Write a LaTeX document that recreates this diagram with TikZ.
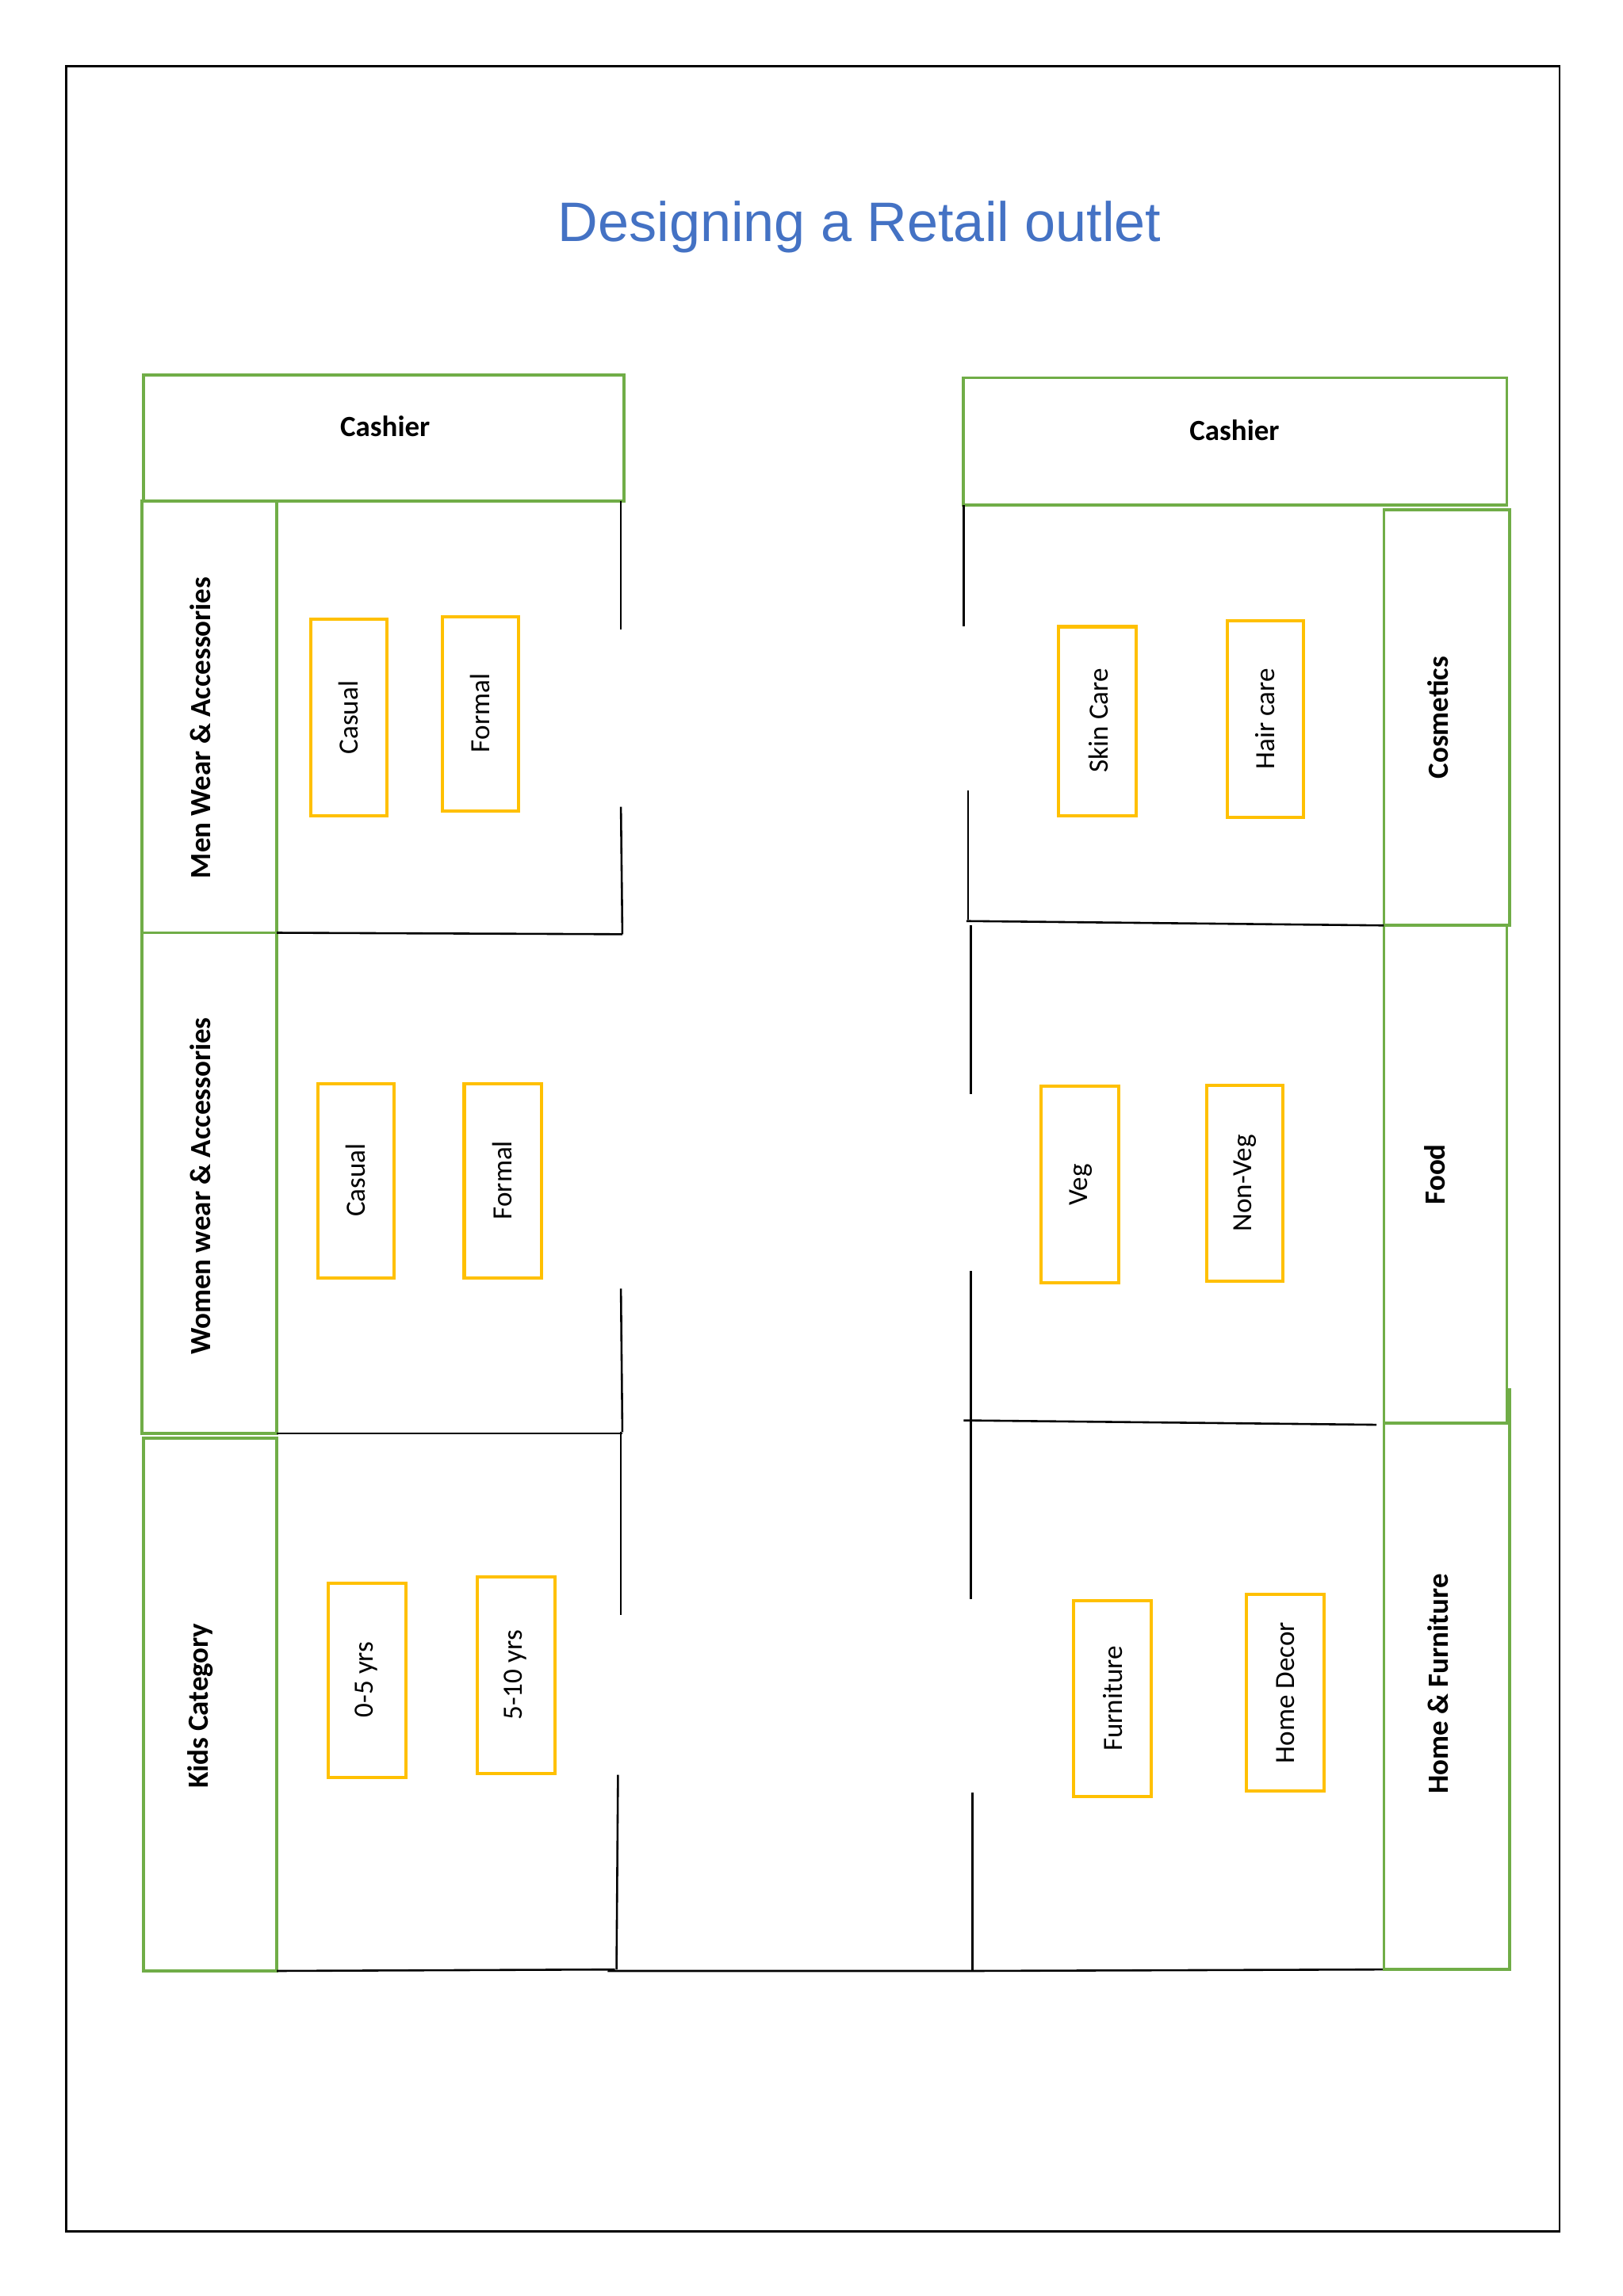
\documentclass[tikz,border=0pt]{standalone}
\usepackage{fontspec}
\setmainfont{Carlito}
\newfontfamily\titlefont{Liberation Sans}
\definecolor{grn}{RGB}{112,173,71}
\definecolor{ylw}{RGB}{255,192,0}
\definecolor{ttl}{RGB}{68,114,196}
\begin{document}
\begin{tikzpicture}[x=0.5pt,y=-0.5pt,
  gbox/.style={draw=grn,line width=1pt},
  ybox/.style={draw=ylw,line width=1.1pt},
  wall/.style={draw=black,line width=0.7pt},
  lbl/.style={font=\fontsize{10}{12}\selectfont\bfseries,rotate=90},
  item/.style={font=\fontsize{9.5}{11}\selectfont,rotate=90}]
\useasboundingbox (0,0) rectangle (1108,1568);
\draw[line width=0.8pt] (45,45) rectangle (1065,1524);
\node[font=\titlefont\fontsize{19}{22}\selectfont,text=ttl] (title) at (587,155) {Designing a Retail outlet};
% left side
\draw[gbox] (98,256) rectangle (426,342);
\node[font=\fontsize{10}{12}\selectfont\bfseries] (lc) at (263,291) {Cashier};
\draw[gbox] (97,342) rectangle (189,637);
\draw[gbox] (97,637) rectangle (189,979);
\draw[gbox] (98,982) rectangle (189,1346);
\node[lbl] (men) at (137,497) {Men Wear \& Accessories};
\node[lbl] (women) at (137,810) {Women wear \& Accessories};
\node[lbl] (kids) at (137,1165) {Kids Category};
\draw[wall] (189,637) -- (425,638);
\draw[wall] (189,979) -- (425,979);
\draw[wall] (189,1346) -- (420,1345);
\draw[wall] (415,1346) -- (664,1346) -- (945,1345);
\draw[wall] (424,342) -- (424,430);
\draw[wall] (424,551) -- (425,638);
\draw[wall] (424,880) -- (425,978);
\draw[wall] (424,978) -- (424,1103);
\draw[wall] (422,1212) -- (421,1345);
% yellow left
\draw[ybox] (212,423) rectangle (264,557); \node[item] (a1) at (238,490) {Casual};
\draw[ybox] (302,421) rectangle (354,554); \node[item] (a2) at (328,487) {Formal};
\draw[ybox] (217,740) rectangle (269,873); \node[item] (b1) at (243,806) {Casual};
\draw[ybox] (317,740) rectangle (370,873); \node[item] (b2) at (343,806) {Formal};
\draw[ybox] (224,1081) rectangle (277,1214); \node[item] (c1) at (250,1147) {0-5 yrs};
\draw[ybox] (326,1077) rectangle (379,1211); \node[item] (c2) at (352,1144) {5-10 yrs};
% right side
\draw[gbox] (658,258) rectangle (1029,345);
\node[font=\fontsize{10}{12}\selectfont\bfseries] (rc) at (843,294) {Cashier};
\draw[gbox] (945,348) rectangle (1031,632);
\draw[gbox] (945,632) rectangle (1029,972);
\draw[gbox] (945,972) rectangle (1031,1345);
\draw[gbox] (1031,948) -- (1031,972);
\node[lbl] (cos) at (982,490) {Cosmetics};
\node[lbl] (food) at (980,802) {Food};
\node[lbl] (home) at (982,1150) {Home \& Furniture};
\draw[wall] (658,345) -- (658,428);
\draw[wall] (661,540) -- (661,628);
\draw[wall] (663,632) -- (663,747);
\draw[wall] (663,868) -- (663,970);
\draw[wall] (663,970) -- (663,1092);
\draw[wall] (664,1224) -- (664,1346);
\draw[wall] (660,629) -- (945,632);
\draw[wall] (658,970) -- (940,973);
\draw[ybox] (723,428) rectangle (776,557); \node[item] (d1) at (750,492) {Skin Care};
\draw[ybox] (838,424) rectangle (890,558); \node[item] (d2) at (864,491) {Hair care};
\draw[ybox] (711,742) rectangle (764,876); \node[item] (e1) at (738,809) {Veg};
\draw[ybox] (824,741) rectangle (876,875); \node[item] (e2) at (850,808) {Non-Veg};
\draw[ybox] (733,1093) rectangle (786,1227); \node[item] (f1) at (760,1160) {Furniture};
\draw[ybox] (851,1089) rectangle (904,1223); \node[item] (f2) at (878,1156) {Home Decor};
\end{tikzpicture}
\end{document}
